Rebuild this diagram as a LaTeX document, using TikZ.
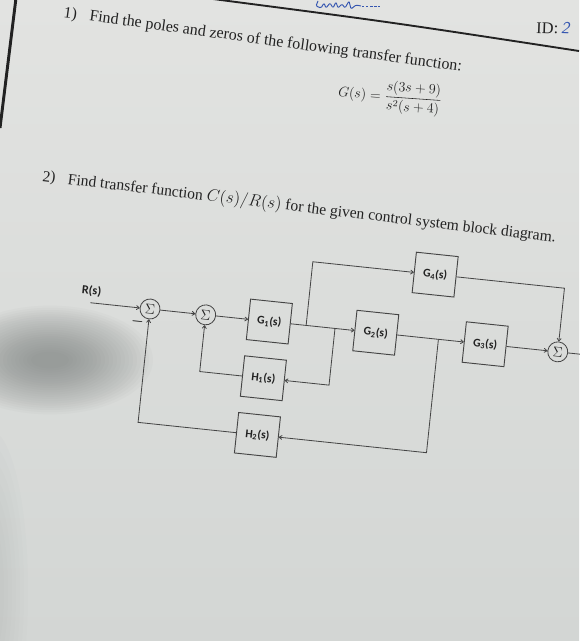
\documentclass[tikz,border=0pt]{standalone}
\usepackage{fontspec}
\setmainfont{Liberation Serif}
\newfontfamily\blockfont{Carlito}
\usepackage{amsmath}
\usepackage{tikz}
\usetikzlibrary{arrows.meta}
\definecolor{paper}{HTML}{D3D6D4}
\definecolor{paperlight}{HTML}{E2E3E1}
\definecolor{shadowgray}{HTML}{6E7372}
\definecolor{inkgray}{HTML}{222222}
\definecolor{linegray}{HTML}{454545}
\definecolor{penblue}{HTML}{3556B0}

\tikzset{
  block/.style={draw=linegray, line width=0.8pt, minimum width=1.26cm, minimum height=1.22cm,
    inner sep=1pt, text=inkgray, font=\blockfont\bfseries\fontsize{10}{12}\selectfont},
  sumnode/.style={draw=linegray, circle, line width=0.7pt, minimum size=0.6cm, inner sep=0pt,
    text=inkgray, font=\large},
  signal/.style={draw=linegray, line width=0.7pt, -{To[length=3pt,width=4pt]}},
  wire/.style={draw=linegray, line width=0.7pt},
  siglabel/.style={text=inkgray, font=\blockfont\bfseries\fontsize{10.5}{12}\selectfont},
  question/.style={text=inkgray, anchor=base west, inner sep=0pt}
}

\begin{document}
\begin{tikzpicture}[x=0.03cm, y=-0.03cm]
  \useasboundingbox (0,0) rectangle (579,641);
  \shade[top color=paperlight, bottom color=paper] (0,0) rectangle (579,641);
  \foreach \k in {1,...,22}
    \fill[shadowgray, opacity=0.035] (50,360) ellipse [x radius=15+4*\k, y radius=6+2.2*\k];
  \foreach \k in {1,...,8}
    \fill[shadowgray, opacity=0.018] (-10,590) ellipse [x radius=6+4*\k, y radius=40+15*\k];

  \draw[inkgray, line width=2.5pt] (16,-2) -- (0,128);
  \draw[inkgray, line width=1.6pt] (213,-1) .. controls (390,22) .. (579,51);
  \draw[penblue, line width=0.8pt, rounded corners=1pt] (318,1) -- (316,6) -- (321,8) -- (324,3)
    -- (326,8) -- (330,3) -- (333,8) -- (336,2) -- (338,8) -- (342,4) -- (345,8) -- (349,1)
    -- (351,9) -- (356,5) -- (361,6);
  \draw[penblue, line width=0.6pt, dash pattern=on 2pt off 1.5pt] (362,6) -- (380,6);

  \node[question, rotate=-2, font=\fontsize{14}{16}\selectfont] (idtag) at (536,33)
    {ID:\,{\color{penblue}\sffamily\itshape\Large 2}};
  \node[question, rotate=-7.8, font=\fontsize{13.6}{16}\selectfont] (q1) at (63,17)
    {1)\hspace{0.8em}Find the poles and zeros of the following transfer function:};
  \node[text=inkgray, rotate=-4, font=\fontsize{12}{14}\selectfont] (tf) at (390,97)
    {$G(s)=\dfrac{s(3s+9)}{s^{2}(s+4)}$};
  \node[question, rotate=-6.8, font=\fontsize{13.3}{16}\selectfont] (q2) at (42,181)
    {2)\hspace{0.8em}Find transfer function $C(s)/R(s)$ for the given control system block diagram.};

  \begin{scope}[shift={(150,309)}, rotate=-6, transform shape]
    \node[sumnode] (sum1) at (0,0) {$\Sigma$};
    \node[sumnode] (sum2) at (56,0) {$\Sigma$};
    \node[block] (g1) at (120,0) {G\textsubscript{1}(s)};
    \node[block] (g2) at (227,0) {G\textsubscript{2}(s)};
    \node[block] (g3) at (337,0) {G\textsubscript{3}(s)};
    \node[sumnode] (sum3) at (410,0) {$\Sigma$};
    \node[block] (g4) at (280,-64) {G\textsubscript{4}(s)};
    \node[block] (h1) at (120,57) {H\textsubscript{1}(s)};
    \node[block] (h2) at (120,114) {H\textsubscript{2}(s)};
    \node[siglabel] (rlabel) at (-60,-12) {R(s)};
    \node[text=inkgray, font=\fontsize{12}{12}\selectfont] (minus) at (-11,14) {$\boldsymbol{-}$};

    \coordinate (rin) at (-60,0);
    \coordinate (out) at (450,0);
    \coordinate (tap4) at (157,0);
    \coordinate (tapH1) at (186,0);
    \coordinate (tapH2) at (290,0);
    \coordinate (c4) at (157,-64);
    \coordinate (c5) at (410,-64);
    \coordinate (cH1) at (186,57);
    \coordinate (cS2) at (56,57);
    \coordinate (cH2) at (290,114);
    \coordinate (cS1) at (0,114);

    \draw[signal] (rin) -- (sum1);
    \draw[signal] (sum1) -- (sum2);
    \draw[signal] (sum2) -- (g1);
    \draw[signal] (g1) -- (g2);
    \draw[signal] (g2) -- (g3);
    \draw[signal] (g3) -- (sum3);
    \draw[wire] (sum3) -- (out);
    \draw[signal] (tap4) -- (c4) -- (g4);
    \draw[signal] (g4) -- (c5) -- (sum3);
    \draw[signal] (tapH1) -- (cH1) -- (h1);
    \draw[signal] (h1) -- (cS2) -- (sum2);
    \draw[signal] (tapH2) -- (cH2) -- (h2);
    \draw[signal] (h2) -- (cS1) -- (sum1);
  \end{scope}
\end{tikzpicture}
\end{document}
